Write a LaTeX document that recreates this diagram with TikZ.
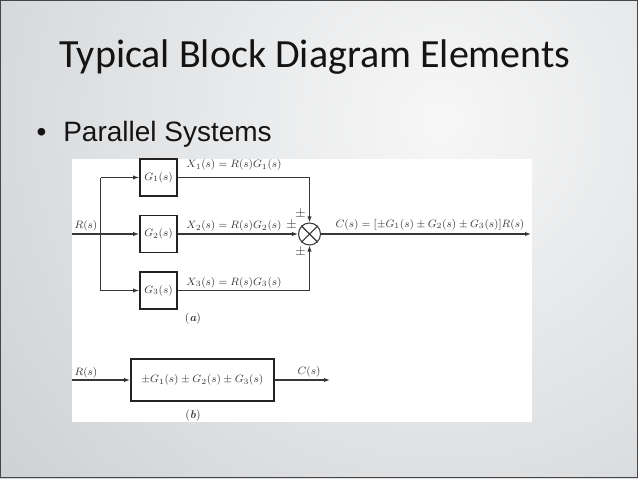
\documentclass[tikz,border=0pt]{standalone}
\usepackage{fontspec}
\newfontfamily\ttlfont{Carlito}
\newfontfamily\itmfont{Liberation Sans}
\usetikzlibrary{arrows.meta}
\definecolor{figline}{RGB}{55,55,55}
\definecolor{figbox}{RGB}{35,35,35}
\definecolor{bginner}{RGB}{247,247,247}
\definecolor{bgouter}{RGB}{198,202,206}
\definecolor{slideedge}{RGB}{70,70,70}
\tikzset{
  ttl/.style  ={font=\ttlfont\fontsize{30}{33}\selectfont, text=black!92, inner sep=0pt},
  itm/.style  ={font=\itmfont\fontsize{21}{24}\selectfont, text=black!92, inner sep=0pt},
  lab/.style  ={font=\fontsize{8.5}{9}\selectfont, text=figline, inner sep=1pt},
  blk/.style  ={draw=figbox, line width=1.3pt, minimum width=27.75pt, minimum height=27.75pt,
                inner sep=0pt, font=\fontsize{8.5}{9}\selectfont, text=figline},
  sum/.style  ={draw=figline, line width=0.8pt, circle, minimum size=16.5pt, inner sep=0pt},
  sig/.style  ={draw=figline, line width=0.8pt},
  sigarr/.style={sig, -{Latex[length=4.5pt,width=3.2pt]}},
}
\begin{document}
\begin{tikzpicture}[x=0.75pt,y=-0.75pt]
  \useasboundingbox (0,0) rectangle (638,478);
  % slide background
  \fill[bgouter] (0,0) rectangle (638,478);
  \begin{scope}
    \clip (0,0) rectangle (638,478);
    \shade[inner color=bginner, outer color=bgouter] (440,120) circle (680);
  \end{scope}
  \draw[slideedge, line width=0.8pt] (0.5,0.5) rectangle (637.5,477.5);
  \node[ttl, anchor=base west] (title) at (59,67.5) {Typical Block Diagram Elements};
  \node[itm, anchor=base] (dot) at (41.5,141) {•};
  \node[itm, anchor=base west] (item) at (63,141) {Parallel Systems};
  % figure panel
  \fill[white] (72,159) rectangle (532,422);
  % (a)
  \node[blk] (g1) at (158.5,177.5) {$G_1(s)$};
  \node[blk] (g2) at (158.5,234) {$G_2(s)$};
  \node[blk] (g3) at (158.5,290.5) {$G_3(s)$};
  \node[sum] (sum) at (309.5,234) {};
  \draw[sig] (sum.north west) -- (sum.south east) (sum.north east) -- (sum.south west);
  \coordinate (rin) at (72,234);
  \coordinate (b1) at (100.5,177.5);
  \coordinate (b3) at (100.5,290.5);
  \coordinate (cout) at (531,234);
  \draw[sigarr] (rin) -- (g2);
  \draw[sig] (b1) -- (b3);
  \draw[sigarr] (b1) -- (g1);
  \draw[sigarr] (b3) -- (g3);
  \draw[sigarr] (g1) -| (sum);
  \draw[sigarr] (g2) -- (sum);
  \draw[sigarr] (g3) -| (sum);
  \draw[sigarr] (sum) -- (cout);
  \node[lab] (x1) at (234,165) {$X_1(s) = R(s)G_1(s)$};
  \node[lab] (x2) at (234,226) {$X_2(s) = R(s)G_2(s)$};
  \node[lab] (x3) at (234,282.5) {$X_3(s) = R(s)G_3(s)$};
  \node[lab] (rlab) at (86,226) {$R(s)$};
  \node[lab] (clab) at (430,224.5) {$C(s) = [\pm G_1(s) \pm G_2(s) \pm G_3(s)]R(s)$};
  \node[lab, font=\fontsize{10}{10}\selectfont] (pm1) at (300.5,214) {$\pm$};
  \node[lab, font=\fontsize{10}{10}\selectfont] (pm2) at (291.5,225) {$\pm$};
  \node[lab, font=\fontsize{10}{10}\selectfont] (pm3) at (300.5,252.5) {$\pm$};
  \node[lab] (capa) at (193,319) {(\textbf{\textit{a}})};
  % (b)
  \node[blk, minimum width=107pt, minimum height=32pt] (gb) at (202.3,380) {$\pm G_1(s) \pm G_2(s) \pm G_3(s)$};
  \coordinate (rinb) at (72,380);
  \coordinate (coutb) at (330,380);
  \draw[sigarr] (rinb) -- (gb);
  \draw[sigarr] (gb) -- (coutb);
  \node[lab] (rlabb) at (86,372.5) {$R(s)$};
  \node[lab] (clabb) at (309,372) {$C(s)$};
  \node[lab] (capb) at (193,416) {(\textbf{\textit{b}})};
\end{tikzpicture}
\end{document}
